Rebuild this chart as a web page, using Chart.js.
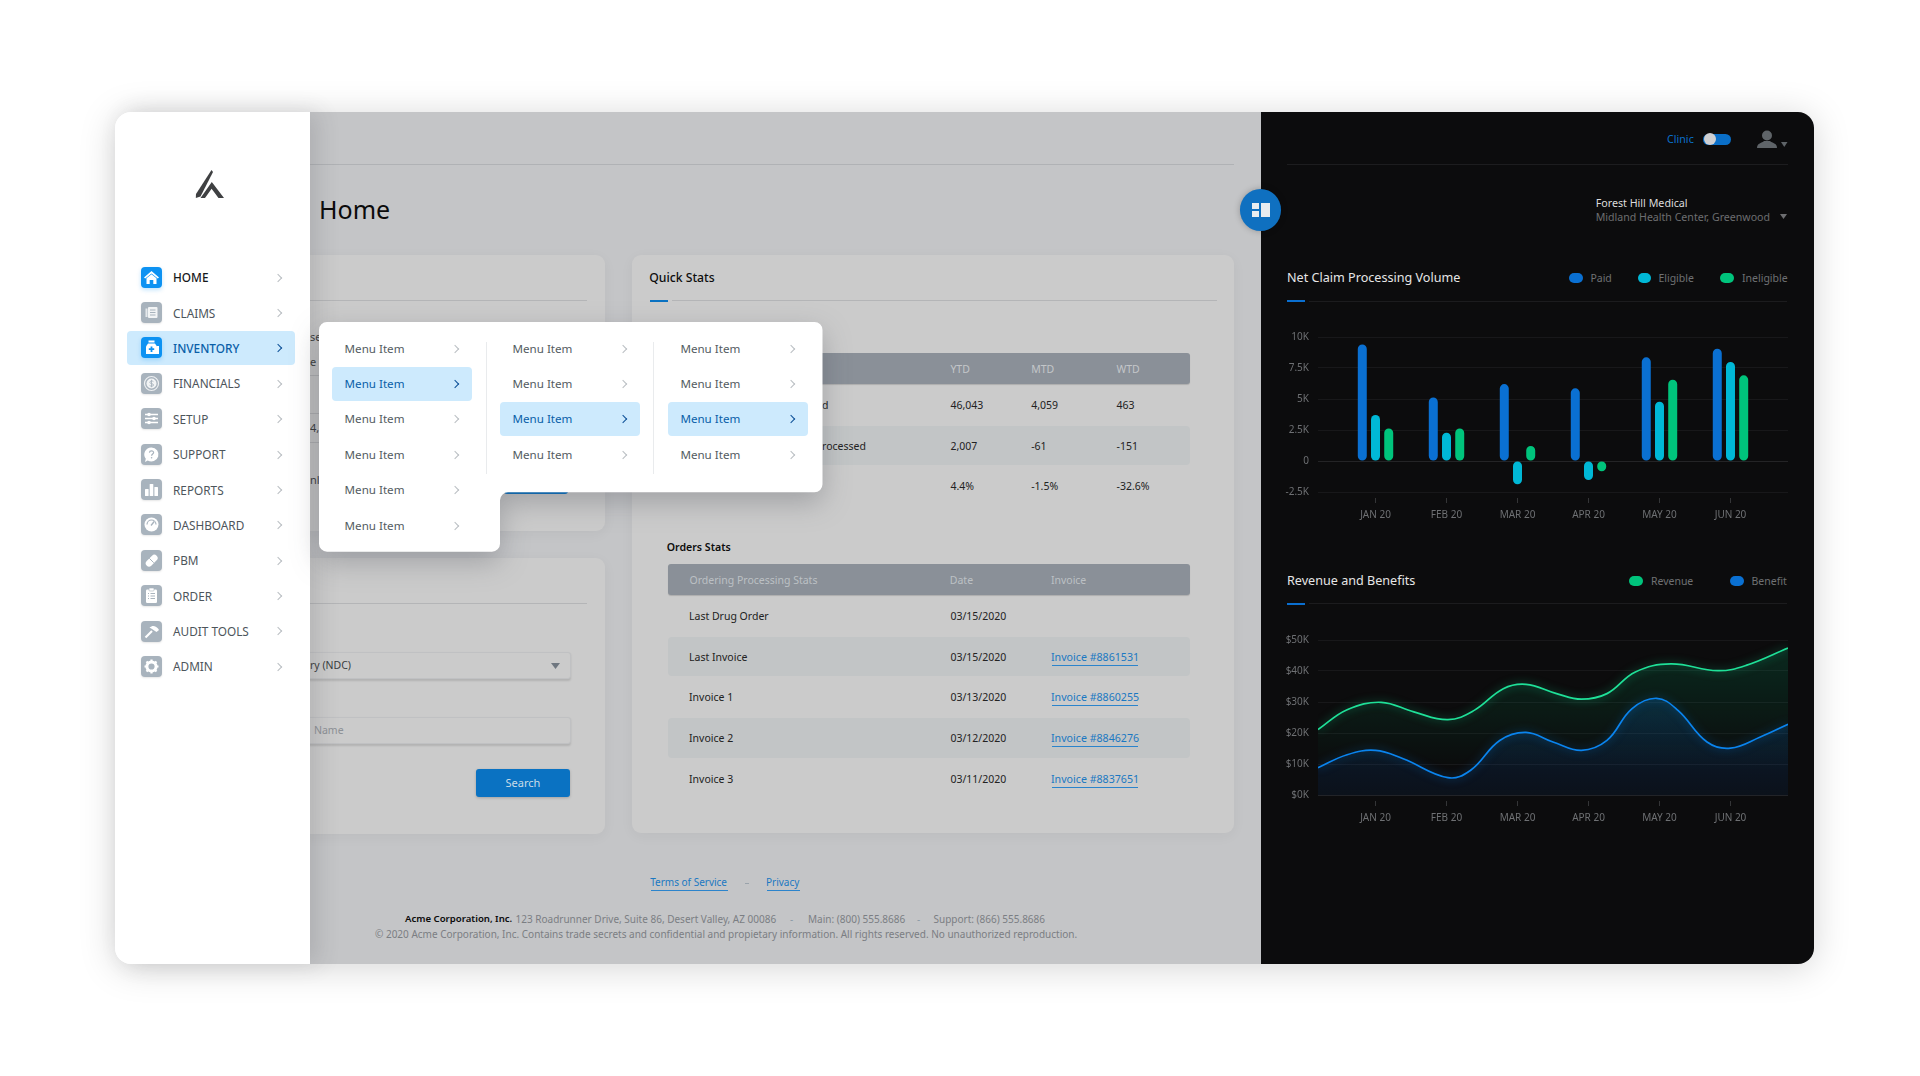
<!DOCTYPE html>
<html>
<head>
<meta charset="utf-8">
<title>Home</title>
<script src="https://cdn.jsdelivr.net/npm/chart.js@4/dist/chart.umd.min.js"></script>
<style>
html,body{margin:0;padding:0;background:#fff;width:1920px;height:1076px;overflow:hidden;font-family:"Noto Sans","Open Sans",sans-serif}
#root{position:absolute;left:0;top:0;width:1920px;height:1076px;overflow:hidden}
.b{position:absolute;box-sizing:border-box}
.t{position:absolute;white-space:nowrap;transform:translateY(-50%);line-height:1.2}
canvas{position:absolute;display:block}
</style>
</head>
<body>
<div id="root"></div>
<script>
/* ---------- chart data ---------- */
const months = ['JAN 20','FEB 20','MAR 20','APR 20','MAY 20','JUN 20'];
const paidValues = [9400,5130,6200,5860,8360,9060];
const eligibleValues = [3710,2280,-1880,-1530,4780,7980];
const ineligibleValues = [2630,2630,1210,-830,6560,6910];
const revenueMonths = [-0.81,-0.40,0.08,0.54,1.02,1.39,1.80,2.12,2.55,2.90,3.26,3.66,4.16,4.82,5.22,5.81];
const revenueValues = [21100,27500,29900,26800,24300,27300,34300,35700,32700,30900,32700,39700,42300,40100,41800,47400];
const benefitMonths = [-0.81,-0.40,0.00,0.39,1.02,1.34,1.75,2.12,2.50,2.90,3.26,3.61,3.96,4.26,4.67,5.00,5.42,5.81];
const benefitValues = [8800,13000,14400,11700,5600,8000,17600,20200,17100,14400,17600,27800,31200,27300,17100,15100,18700,22800];

/* ---------- page text ---------- */
const navLabels = ['HOME','CLAIMS','INVENTORY','FINANCIALS','SETUP','SUPPORT','REPORTS','DASHBOARD','PBM','ORDER','AUDIT TOOLS','ADMIN'];
const quickHead = ['YTD','MTD','WTD'];
const quickRows = [['46,043','4,059','463'],['2,007','-61','-151'],['4.4%','-1.5%','-32.6%']];
const orderHead = ['Ordering Processing Stats','Date','Invoice'];
const orderRows = [
  ['Last Drug Order','03/15/2020',''],
  ['Last Invoice','03/15/2020','Invoice #8861531'],
  ['Invoice 1','03/13/2020','Invoice #8860255'],
  ['Invoice 2','03/12/2020','Invoice #8846276'],
  ['Invoice 3','03/11/2020','Invoice #8837651']];

const root = document.getElementById('root');
function box(x,y,w,h,bg,extra){
  const d=document.createElement('div');d.className='b';
  d.style.cssText+=`left:${x}px;top:${y}px;width:${w}px;height:${h}px;background:${bg};`+(extra||'');
  root.appendChild(d);return d;
}
function txt(x,cy,s,size,color,extra){
  const d=document.createElement('div');d.className='t';d.textContent=s;
  d.style.cssText+=`left:${x}px;top:${cy}px;font-size:${size}px;color:${color};`+(extra||'');
  root.appendChild(d);return d;
}
function chev(cx,cy,color,w){
  const s=6;
  box(cx-s/2-1,cy-s/2,s,s,'transparent',`border-top:${w}px solid ${color};border-right:${w}px solid ${color};transform:rotate(45deg);`);
}
function svg(x,y,w,h,inner,extra){
  const d=document.createElement('div');d.className='b';
  d.style.cssText+=`left:${x}px;top:${y}px;width:${w}px;height:${h}px;`+(extra||'');
  d.innerHTML=`<svg xmlns="http://www.w3.org/2000/svg" width="${w}" height="${h}" viewBox="0 0 ${w} ${h}" style="display:block;overflow:visible">${inner}</svg>`;
  root.appendChild(d);return d;
}

/* ---------- main grey area ---------- */
box(115,112,1699,852,'#fff','border-radius:16px;box-shadow:0 4px 36px rgba(0,0,0,.17);');
box(300,112,965,852,'#c4c5c7');
box(310,163.5,924,1,'#b0b2b5');
txt(319,208.5,'Home',25,'#0b0b0b');
const cardShadow='box-shadow:0 3px 14px rgba(0,0,0,.045);';
box(300,255,305,276,'#cbcbcb','border-radius:9px;'+cardShadow);
box(300,557.7,305,276.3,'#cbcbcb','border-radius:9px;'+cardShadow);
box(632,255,602,578.3,'#cbcbcb','border-radius:9px;'+cardShadow);
box(310,300,277,1,'#b4b5b7');
box(310,603,277,1,'#b4b5b7');

/* left-card fragments showing beside the popup */
txt(310,336.7,'se',11,'#3a3d40');
txt(310,362,'e',11,'#3a3d40');
txt(310,427.7,'4,',11,'#3a3d40');
txt(310,480,'nl',11,'#3a3d40');
box(310,375,10,1,'#b4b5b7');box(310,413,10,1,'#b4b5b7');box(310,441.7,10,1,'#b4b5b7');
box(504,488,64,6,'#0a72c2','border-radius:0 0 3px 3px;');

/* left-card form */
box(300,651.7,270.7,27,'#cbcbcb','border:1px solid #c0c1c3;border-radius:3px;box-shadow:0 1.5px 2px rgba(0,0,0,.12);');
txt(310,665,'ry (NDC)',10.5,'#3a3d40');
svg(550.5,662.5,9,6,'<path d="M0 0H9L4.5 6Z" fill="#6f7780"/>');
box(300,716.7,270.7,27.3,'#cbcbcb','border:1px solid #c0c1c3;border-radius:3px;box-shadow:0 1.5px 2px rgba(0,0,0,.12);');
txt(314,730,'Name',10.5,'#8d9196');
box(476,769.3,94,27.4,'#0a72c2','border-radius:3px;box-shadow:0 1px 3px rgba(0,0,0,.2);');
txt(523,783,'Search',11,'#c9dce8','transform:translate(-50%,-50%);');

/* quick stats */
txt(649.3,277.7,'Quick Stats',12.2,'#0d0d0d','font-weight:500;');
box(649.5,300,18,2,'#0a72c2');
box(672,300,544.5,1,'#b4b5b7');
const col3=[950.4,1031.2,1116.5];
box(667.5,353.3,522,30.7,'#8a9098','border-radius:3px;box-shadow:0 1px 1px rgba(0,0,0,.15);');
quickHead.forEach((s,i)=>txt(col3[i],368.7,s,10.5,'#c3c6c9'));
box(667.5,425.7,522,39.3,'#c2c5c6','border-radius:4px;');
[405,445.7,486.3].forEach((y,r)=>quickRows[r].forEach((s,i)=>txt(col3[i],y,s,10.5,'#222')));
txt(822,405,'d',10.5,'#222');
txt(822,445.7,'rocessed',10.5,'#222');

/* orders */
txt(666.7,547.3,'Orders Stats',10.6,'#0d0d0d','font-weight:600;');
box(667.5,564.3,522,31,'#8a9098','border-radius:3px;box-shadow:0 1px 1px rgba(0,0,0,.15);');
const orderX=[689.5,949.8,1050.9];
orderHead.forEach((s,i)=>txt(orderX[i],580,s,10.5,'#bcc0c4'));
box(667.5,636.7,522,39.3,'#c2c5c6','border-radius:4px;');
box(667.5,718,522,39.7,'#c2c5c6','border-radius:4px;');
[616,656.7,697.3,738,778.7].forEach((y,r)=>{
  txt(689,y,orderRows[r][0],10.5,'#222');
  txt(950.4,y,orderRows[r][1],10.5,'#222');
  if(orderRows[r][2]){
    txt(1051,y,orderRows[r][2],10.65,'#1a78c2');
    box(1051.6,y+7.8,86.5,1.2,'#2b84cc');
  }
});

/* footer */
txt(650.2,881.7,'Terms of Service',10,'#1a78c2');
box(651,889.6,76.8,1.2,'#2b84cc');
box(745,883,3.5,1,'#9aa3ab');
txt(766,881.7,'Privacy',10,'#1a78c2');
box(766.5,889.6,33.5,1.2,'#2b84cc');
txt(405,919.3,'Acme Corporation, Inc.',9.6,'#0b0b0b','font-weight:600;');
txt(515.5,919.3,'123 Roadrunner Drive, Suite 86, Desert Valley, AZ 00086',10,'#7b7e83');
txt(790,919.3,'-',10,'#8a9aa5');
txt(808,919.3,'Main: (800) 555.8686',10,'#7b7e83');
txt(917,919.3,'-',10,'#8a9aa5');
txt(933.5,919.3,'Support: (866) 555.8686',10,'#7b7e83');
txt(375,934.3,'© 2020 Acme Corporation, Inc. Contains trade secrets and confidential and propietary information. All rights reserved. No unauthorized reproduction.',10,'#7b7e83');

/* ---------- sidebar ---------- */
box(115,112,195,852,'#fff','border-radius:16px 0 0 16px;box-shadow:8px 0 22px rgba(60,65,70,.16);');
svg(195,169,30,30,'<path d="M16.5 1 L18 3 L5.5 27.5 L0.8 29 L1 25 Z" fill="#3f4042"/><path d="M16.8 13 L29 29 H23.5 L16.6 19.8 L10 29 H5.5 Z" fill="#3f4042"/>');
const icons=[
 '<path d="M10.5 4 L18 10.4 L16.8 11.6 L10.5 6.4 L4.2 11.6 L3 10.4Z" fill="#fff"/><path d="M5.5 11.2 L10.5 7.2 L15.5 11.2 V17 H12.3 V13 H8.7 V17 H5.5Z" fill="#fff"/>',
 '<rect x="7" y="5" width="9.5" height="11" rx="1" fill="#fff" opacity=".85"/><rect x="4.5" y="6.5" width="2" height="8.5" fill="#fff" opacity=".7"/><path d="M9 8h5.5M9 10.5h5.5M9 13h5.5" stroke="#a8b3bd" stroke-width="1"/>',
 '<rect x="7.5" y="3.5" width="6" height="2" fill="#fff"/><path d="M7 6.5h7l2 3V17H5V9.5z" fill="#fff"/><path d="M10.5 9.5v5.5M7.8 12.2h5.4" stroke="#0d92f2" stroke-width="1.8"/><rect x="15.5" y="9" width="2.5" height="8" fill="#fff"/>',
 '<circle cx="10.5" cy="10.5" r="7" fill="none" stroke="#fff" stroke-width="1.2" opacity=".8"/><circle cx="10.5" cy="10.5" r="5" fill="#fff" opacity=".85"/><path d="M12.4 8.6c-.8-.9-3.6-.9-3.6.7 0 1.9 3.8.9 3.8 2.7 0 1.5-3 1.5-4 .4M10.5 6.8v7.4" stroke="#a8b3bd" stroke-width=".9" fill="none"/>',
 '<path d="M4 6.5h13M4 10.5h13M4 14.5h13" stroke="#fff" stroke-width="1.3"/><circle cx="8" cy="6.5" r="1.8" fill="#fff"/><circle cx="13" cy="10.5" r="1.8" fill="#fff"/><circle cx="8" cy="14.5" r="1.8" fill="#fff"/>',
 '<path d="M10.5 3.5a7 7 0 1 1-3.8 12.9L4 18l.8-3.2a7 7 0 0 1 5.7-11.3z" fill="#fff"/><path d="M8.4 8.6c.3-2.3 4.3-2.1 4.2 0 0 1.5-2 1.5-2 3.2" stroke="#a8b3bd" stroke-width="1.2" fill="none"/><circle cx="10.6" cy="13.8" r=".8" fill="#a8b3bd"/>',
 '<rect x="4" y="10" width="3.6" height="7" rx=".6" fill="#fff"/><rect x="8.7" y="5" width="3.6" height="12" rx=".6" fill="#fff"/><rect x="13.4" y="8" width="3.6" height="9" rx=".6" fill="#fff"/>',
 '<circle cx="10.5" cy="10.5" r="7" fill="#fff"/><path d="M6 10.5a4.5 4.5 0 0 1 9 0" fill="none" stroke="#a8b3bd" stroke-width="1.2"/><path d="M10 11.5l3.2-4" stroke="#a8b3bd" stroke-width="1.3"/>',
 '<rect x="3.5" y="7.5" width="14" height="6.5" rx="3.2" transform="rotate(-45 10.5 10.5)" fill="#fff"/><path d="M8.3 8.3l4.4 4.4" stroke="#a8b3bd" stroke-width="1"/>',
 '<rect x="5" y="4.5" width="11" height="13.5" rx="1.2" fill="#fff"/><rect x="8" y="3" width="5" height="3" rx=".8" fill="#fff" stroke="#a8b3bd" stroke-width=".6"/><path d="M7 8.5h1M7 11h1M7 13.5h1M9.5 8.5h4.5M9.5 11h4.5M9.5 13.5h4.5" stroke="#a8b3bd" stroke-width="1"/>',
 '<path d="M4.5 16.5L11 10" stroke="#fff" stroke-width="2.2"/><path d="M8.5 6.5c3-2.5 6-2 8.5 1l1 1.5-2.5 2-4.5-3z" fill="#fff"/>',
 '<circle cx="10.5" cy="10.5" r="4.6" fill="none" stroke="#fff" stroke-width="3"/><path d="M10.5 3.5v2.5M10.5 15v2.5M3.5 10.5h2.5M15 10.5h2.5M5.5 5.5l1.8 1.8M13.7 13.7l1.8 1.8M5.5 15.5l1.8-1.8M13.7 7.3l1.8-1.8" stroke="#fff" stroke-width="2.2"/>'
];
box(127.3,331,167.7,34.3,'#cdeafd','border-radius:4px;');
navLabels.forEach((s,i)=>{
  const y=277.3+i*35.38, active=i===2, home=i===0;
  const bg=(active||home)?'#0d92f2':'#a8b3bd';
  box(140.7,y-10.6,21,21,bg,'border-radius:4px;'+(active||home?'box-shadow:0 2px 4px rgba(13,146,242,.25);':'box-shadow:0 1px 2px rgba(0,0,0,.1);'));
  svg(140.7,y-10.6,21,21,icons[i].replace(/#a8b3bd/g,bg));
  txt(173,y,s,11.8,home?'#16181a':active?'#0a5fa8':'#4d555b',(home||active)?'font-weight:500;':'');
  chev(279,y+.3,active?'#0a4f96':'#b9bec2',active?1.8:1.2);
});

/* ---------- flyout menu ---------- */
svg(0,0,1920,1076,'<path d="M327 322H814.5a8 8 0 0 1 8 8V484.3a8 8 0 0 1-8 8H508a8 8 0 0 0-8 8V543.7a8 8 0 0 1-8 8H327a8 8 0 0 1-8-8V330a8 8 0 0 1 8-8Z" fill="#fff"/>','filter:drop-shadow(0 10px 14px rgba(50,55,65,.28));pointer-events:none;');
box(486.2,341.7,1,132.6,'#e9ebed');
box(653.4,341.7,1,132.6,'#e9ebed');
const menuYs=[348.6,384,419.3,455,490.3,525.6];
const menuCols=[{x:344.6,c:456.4,n:6,a:1,bx:332},{x:512.5,c:624.3,n:4,a:2,bx:500},{x:680.4,c:792.1,n:4,a:2,bx:667.9}];
menuCols.forEach(col=>{
  for(let r=0;r<col.n;r++){
    const on=r===col.a;
    if(on)box(col.bx,menuYs[r]-17.5,140,34.4,'#cdeafd','border-radius:4px;');
    txt(col.x,menuYs[r],'Menu Item',11.6,on?'#0a5fa8':'#545c62');
    chev(col.c,menuYs[r],on?'#0a4f96':'#b9bec2',on?1.8:1.2);
  }
});

/* ---------- dark panel ---------- */
box(1260.5,112,553.5,852,'#0c0c0d','border-radius:0 16px 16px 0;');
box(1287,163.5,500.5,1,'#1d1d1f');
txt(1667,139,'Clinic',10.7,'#0a70cc');
box(1703,134,28.4,10.5,'#0a6fc8','border-radius:6px;');
box(1703.6,133,12,12,'#cfd0d2','border-radius:50%;');
svg(1757,130,20,19,'<circle cx="10" cy="5.5" r="5" fill="#5f6468"/><path d="M0 18c0-5 5-5 7-7h6c2 2 7 2 7 7z" fill="#5f6468"/>');
svg(1781,142,6.5,5,'<path d="M0 0H6.5L3.25 5Z" fill="#5f6468"/>');
svg(1779.5,213.8,7,5,'<path d="M0 0H7L3.5 5Z" fill="#6d6e70"/>');
txt(1595.7,202.8,'Forest Hill Medical',10.7,'#dcdcdc');
txt(1595.7,216.7,'Midland Health Center, Greenwood',10.6,'#6d6e70');
/* toggle-panel button */
box(1240,189.3,41.4,41.4,'#0f70c0','border-radius:50%;box-shadow:0 0 6px rgba(0,0,0,.25);');
box(1251.5,202.5,7.5,6.5,'#e8ecef');
box(1251.5,210.5,7.5,6.5,'#e8ecef');
box(1260.5,202.5,9.5,14.5,'#e8ecef');

function panelHead(cy,divY,title,legend){
  txt(1287,cy,title,12.6,'#e6e6e6');
  box(1287,divY-.5,17.6,2,'#0a6fd0');
  box(1309.3,divY-.2,478.2,1,'#1c1c1e');
  legend.forEach(l=>{
    box(l.sx,cy-4.4,13.6,9.3,l.color,'border-radius:5px;');
    txt(l.tx,cy+.3,l.name,10.5,'#6f7173');
  });
}
const paidColor='#0a70d2', eligibleColor='#00b8d6', ineligibleColor='#00c47c', revenueColor='#1fe098', benefitColor='#0a84ee';
panelHead(277.7,300.7,'Net Claim Processing Volume',[
  {name:'Paid',color:paidColor,sx:1569.3,tx:1590.4},
  {name:'Eligible',color:eligibleColor,sx:1637.9,tx:1658.4},
  {name:'Ineligible',color:ineligibleColor,sx:1720,tx:1742}]);
panelHead(580.7,603.3,'Revenue and Benefits',[
  {name:'Revenue',color:'#00c47c',sx:1629,tx:1650.9},
  {name:'Benefit',color:paidColor,sx:1730,tx:1751.5}]);

function mkCanvas(x,y,w,h){
  const c=document.createElement('canvas');
  c.width=w;c.height=h;c.style.left=x+'px';c.style.top=y+'px';c.style.width=w+'px';c.style.height=h+'px';
  root.appendChild(c);return c;
}
const tickFont={family:'"Noto Sans","Open Sans",sans-serif',size:10};
const tickGrey='#6e7073';
function xAxis(h){return {
  type:'linear',min:-0.81,max:5.81,offset:false,
  afterFit(s){s.height=h;},
  border:{display:false},
  grid:{offset:false,drawOnChartArea:false,drawTicks:true,tickLength:11,tickColor:'#343537',tickWidth:1,tickBorderDash:[0,6,5,100]},
  ticks:{stepSize:1,includeBounds:false,autoSkip:false,maxRotation:0,color:tickGrey,font:tickFont,padding:6,
         callback:v=>months[v]}
};}
function yAxis(min,max,step,fmt,zero){return {
  min,max,
  afterFit(s){s.width=50;},
  border:{display:false},
  grid:{drawTicks:false,color:c=>c.tick&&c.tick.value===0?zero:'#18181a',lineWidth:1},
  ticks:{stepSize:step,color:tickGrey,font:tickFont,padding:9,callback:fmt}
};}
const common={responsive:false,animation:false,devicePixelRatio:1,
  plugins:{legend:{display:false},tooltip:{enabled:false}}};
const xy=(xs,ys)=>ys.map((y,i)=>({x:xs[i],y}));
const monthIdx=months.map((m,i)=>i);

function barSet(label,values,color){return {
  label,data:xy(monthIdx,values),backgroundColor:color,
  borderRadius:5,borderSkipped:false,categoryPercentage:.5586,barPercentage:.68
};}
new Chart(mkCanvas(1268,322,520,213),{
  type:'bar',
  data:{datasets:[barSet('Paid',paidValues,paidColor),barSet('Eligible',eligibleValues,eligibleColor),barSet('Ineligible',ineligibleValues,ineligibleColor)]},
  options:{...common,layout:{autoPadding:false,padding:{top:15,left:0,right:0,bottom:0}},
    scales:{x:xAxis(43),y:yAxis(-2500,10000,2500,v=>v===0?'0':(v/1000)+'K','#242426')}}
});

function vGrad(ctx,fromV,fromC,toV,toC){
  const ch=ctx.chart,a=ch.chartArea;
  if(!a)return 'transparent';
  const y=ch.scales.y;
  const g=ch.ctx.createLinearGradient(0,y.getPixelForValue(fromV),0,y.getPixelForValue(toV));
  g.addColorStop(0,fromC);g.addColorStop(1,toC);
  return g;
}
const glow={id:'glow',
  beforeDatasetDraw(ch,args){
    const ds=ch.data.datasets[args.index];
    ch.ctx.save();ch.ctx.shadowColor=ds.glowColor;ch.ctx.shadowBlur=8;
  },
  afterDatasetDraw(ch){ch.ctx.restore();}
};
new Chart(mkCanvas(1268,625,520,205),{
  type:'line',
  data:{datasets:[
    {label:'Revenue',data:xy(revenueMonths,revenueValues),order:2,borderColor:revenueColor,borderWidth:1.7,pointRadius:0,
     tension:0.4,fill:'origin',glowColor:'rgba(20,220,150,.55)',
     backgroundColor:c=>vGrad(c,50000,'rgba(0,196,124,.17)',8000,'rgba(0,196,124,0)')},
    {label:'Benefit',data:xy(benefitMonths,benefitValues),order:1,borderColor:benefitColor,borderWidth:1.7,pointRadius:0,
     tension:0.4,fill:'origin',glowColor:'rgba(10,130,240,.55)',
     backgroundColor:c=>vGrad(c,32000,'rgba(10,120,220,.2)',0,'rgba(10,90,200,.08)')}
  ]},
  options:{...common,layout:{autoPadding:false,padding:{top:15,left:0,right:0,bottom:0}},
    scales:{x:xAxis(35),y:yAxis(0,50000,10000,v=>'$'+(v/1000)+'K','#222428')}},
  plugins:[glow]
});
</script>
</body>
</html>
